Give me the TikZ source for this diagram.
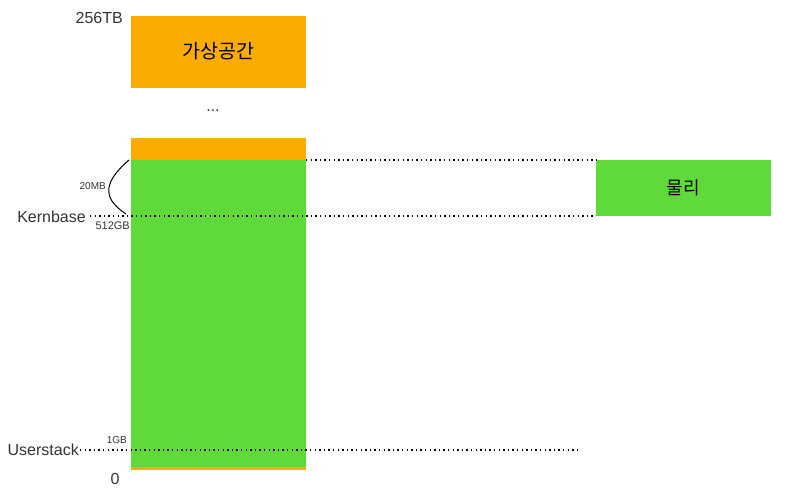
\documentclass[tikz,border=0pt]{standalone}
\usepackage{fontspec}
\setmainfont{Liberation Sans}
\newfontfamily\kr{Noto Sans CJK KR}
\definecolor{orng}{HTML}{FAAD00}
\definecolor{grn}{HTML}{5FDA3A}
\definecolor{txt}{HTML}{333333}
\begin{document}
\begin{tikzpicture}[x=1pt,y=-1pt,
  lbl/.style={inner sep=0pt,text=txt,font=\fontsize{16}{16}\selectfont},
  small/.style={inner sep=0pt,text=txt,font=\fontsize{10}{10}\selectfont},
  dotline/.style={line width=1.3pt,dash pattern=on 1.3pt off 3.3pt,black}]
\useasboundingbox (0,0) rectangle (800,500);
\fill[orng] (131,16) rectangle (306,88);
\node[inner sep=0pt,font=\kr\fontsize{19.5}{19.5}\selectfont] (va) at (218.5,51) {가상공간};
\node[inner sep=0pt,text=txt,font=\fontsize{16}{16}\selectfont] (dots) at (213,111) {...};
\fill[orng] (131,138) rectangle (306,470);
\fill[grn] (131,160) rectangle (306,467);
\fill[grn] (596,160) rectangle (771,216);
\node[inner sep=0pt,font=\kr\fontsize{18}{18}\selectfont] (phys) at (683.5,188) {물리};
\coordinate (kt) at (306,160);
\coordinate (pt) at (596,160);
\coordinate (kb0) at (90,216);
\coordinate (pb) at (596,216);
\coordinate (us0) at (80,450);
\coordinate (us1) at (577,450);
\draw[dotline] (kt) -- (pt);
\draw[dotline] (kb0) -- (pb);
\draw[dotline] (us0) -- (us1);
\coordinate (ca) at (129,160);
\coordinate (cb) at (126,214);
\draw[line width=1pt] (ca) .. controls (100,185) and (105,200) .. (cb);
\node[lbl,anchor=east] (tb) at (123,18) {256TB};
\node[small,anchor=east] (mb) at (106,186) {20MB};
\node[lbl,anchor=east] (kern) at (86,217) {Kernbase};
\node[small,font=\fontsize{11}{11}\selectfont,anchor=east] (g512) at (130,226) {512GB};
\node[small,anchor=east] (g1) at (127,440) {1GB};
\node[lbl,anchor=east] (ust) at (79,450) {Userstack};
\node[lbl] (zero) at (115,479) {0};
\end{tikzpicture}
\end{document}
